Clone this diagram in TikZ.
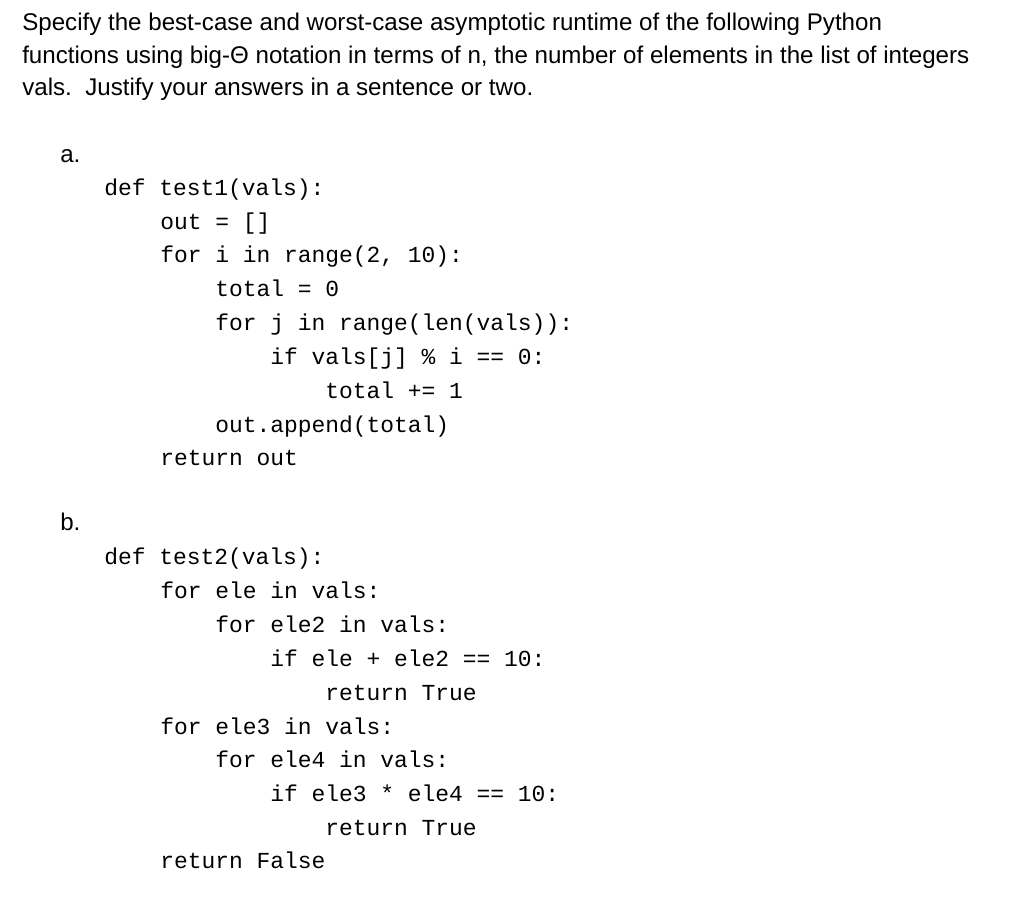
\documentclass[tikz,border=0pt]{standalone}
\usepackage{fontspec}
\setmainfont{Liberation Sans}
\newfontfamily\codefont{Liberation Mono}
\begin{document}
\begin{tikzpicture}[x=0.75pt,y=-0.75pt,
  txt/.style={anchor=base west,inner sep=0pt,font=\fontsize{18.1pt}{22pt}\selectfont},
  code/.style={anchor=base west,inner sep=0pt,font=\codefont\fontsize{17.2pt}{20pt}\selectfont}]
\useasboundingbox[fill=white] (0,0) rectangle (1024,896);
\node[txt] (h1) at (22,30) {Specify the best-case and worst-case asymptotic runtime of the following Python};
\node[txt] (h2) at (22,63) {functions using big-Θ notation in terms of n, the number of elements in the list of integers};
\node[txt] (h3) at (22,95) {vals.\ \ Justify your answers in a sentence or two.};
\node[txt] (la) at (60,162) {a.};
\node[code] (a1) at (104,195) {def test1(vals):};
\node[code] (a2) at (160,229) {out = []};
\node[code] (a3) at (160,262) {for i in range(2, 10):};
\node[code] (a4) at (215,296) {total = 0};
\node[code] (a5) at (215,330) {for j in range(len(vals)):};
\node[code] (a6) at (270,364) {if vals[j] \% i == 0:};
\node[code] (a7) at (325,398) {total += 1};
\node[code] (a8) at (215,432) {out.append(total)};
\node[code] (a9) at (160,465) {return out};
\node[txt] (lb) at (60,530) {b.};
\node[code] (b1) at (104,564) {def test2(vals):};
\node[code] (b2) at (160,598) {for ele in vals:};
\node[code] (b3) at (215,632) {for ele2 in vals:};
\node[code] (b4) at (270,666) {if ele + ele2 == 10:};
\node[code] (b5) at (325,700) {return True};
\node[code] (b6) at (160,734) {for ele3 in vals:};
\node[code] (b7) at (215,767) {for ele4 in vals:};
\node[code] (b8) at (270,801) {if ele3 * ele4 == 10:};
\node[code] (b9) at (325,835) {return True};
\node[code] (b10) at (160,868) {return False};
\end{tikzpicture}
\end{document}
